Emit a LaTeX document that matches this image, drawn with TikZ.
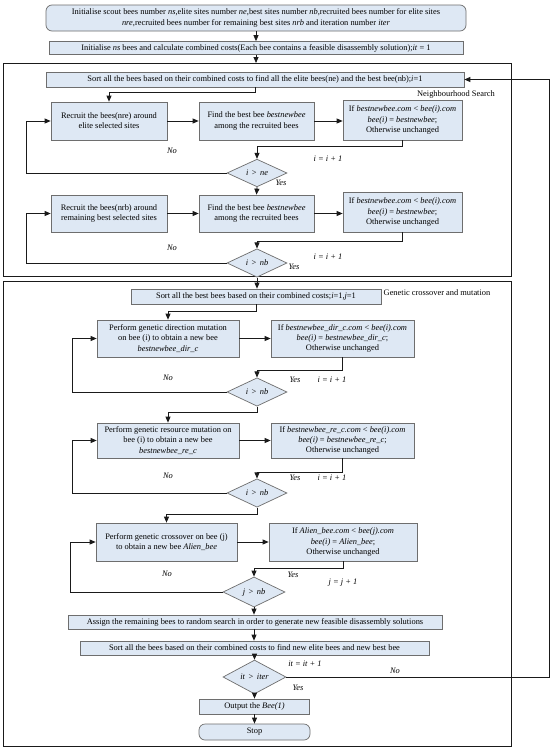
\documentclass[tikz,border=0pt]{standalone}
\usepackage{fontspec}
\setmainfont{Liberation Serif}
\usetikzlibrary{shapes.geometric,arrows.meta,calc}
\definecolor{boxfill}{HTML}{DEE8F4}
\definecolor{bordercol}{HTML}{6E6E6E}
\definecolor{linecol}{HTML}{1A1A1A}
\begin{document}
\begin{tikzpicture}[x=1pt,y=-1pt,
  font=\fontsize{8.4}{10.2}\selectfont,
  box/.style={draw=bordercol, fill=boxfill, inner sep=1pt, align=center, line width=0.7pt},
  rbox/.style={box, rounded corners=6pt},
  dec/.style={diamond, draw=bordercol, fill=boxfill, inner sep=0pt, line width=0.7pt, minimum width=60pt, minimum height=24pt},
  conn/.style={draw=linecol, line width=0.8pt},
  arr/.style={conn, -{Triangle[length=6pt,width=5pt]}},
  frm/.style={draw=linecol, line width=0.8pt},
  lab/.style={font=\fontsize{8.4}{10.2}\selectfont\itshape, inner sep=0pt}]
\useasboundingbox (0,0) rectangle (550,750);
\fill[white] (0,0) rectangle (550,750);
% frames
\draw[frm] (3,63) rectangle (511,276);
\draw[frm] (3,281) rectangle (511,746);
\coordinate (f1top) at (256,63);
% nodes
\node[rbox, minimum width=420pt, minimum height=26pt] (init) at (256,18) {Initialise scout bees number \textit{ns},elite sites number \textit{ne},best sites number \textit{nb},recruited bees number for elite sites\\\textit{nre},recruited bees number for remaining best sites \textit{nrb} and iteration number \textit{iter}};
\node[box, minimum width=414pt, minimum height=13pt] (init2) at (256,48) {Initialise \textit{ns} bees and calculate combined costs(Each bee contains a feasible disassembly solution);\textit{it} = 1};
\node[box, minimum width=418pt, minimum height=15pt] (sort1) at (255,79.5) {Sort all the bees based on their combined costs to find all the elite bees(ne) and the best bee(nb);\textit{i}=1};
\node[box, minimum width=116pt, minimum height=38pt] (rec1) at (109,121) {Recruit the bees(nre) around\\elite selected sites};
\node[box, minimum width=115pt, minimum height=38pt] (find1) at (256.5,121) {Find the best bee \textit{bestnewbee}\\among the recruited bees};
\node[box, minimum width=119pt, minimum height=40pt] (if1) at (402.5,120) {If \textit{bestnewbee.com} < \textit{bee(i).com}\\\textit{bee(i)} = \textit{bestnewbee};\\Otherwise unchanged};
\node[dec] (d1) at (257,173) {\textit{i} \,>\, \textit{ne}};
\node[box, minimum width=116pt, minimum height=37pt] (rec2) at (109,213.5) {Recruit the bees(nrb) around\\remaining best selected sites};
\node[box, minimum width=115pt, minimum height=37pt] (find2) at (256.5,213.5) {Find the best bee \textit{bestnewbee}\\among the recruited bees};
\node[box, minimum width=119pt, minimum height=40pt] (if2) at (402.5,212) {If \textit{bestnewbee.com} < \textit{bee(i).com}\\\textit{bee(i)} = \textit{bestnewbee};\\Otherwise unchanged};
\node[dec] (d2) at (257,263) {\textit{i} \,>\, \textit{nb}};
\node[box, minimum width=250pt, minimum height=15pt] (sort2) at (256,296.5) {Sort all the best bees based on their combined costs;\textit{i}=1,\textit{j}=1};
\node[box, minimum width=142pt, minimum height=37pt] (p1) at (168,338.5) {Perform genetic direction mutation\\on bee (i) to obtain a new bee\\\textit{bestnewbee\_dir\_c}};
\node[box, minimum width=143pt, minimum height=37pt] (if3) at (342.5,338.5) {If \textit{bestnewbee\_dir\_c.com} < \textit{bee(i).com}\\\textit{bee(i)} = \textit{bestnewbee\_dir\_c};\\Otherwise unchanged};
\node[dec] (d3) at (257,392) {\textit{i} \,>\, \textit{nb}};
\node[box, minimum width=142pt, minimum height=35pt] (p2) at (168,440.5) {Perform genetic resource mutation on\\bee (i) to obtain a new bee\\\textit{bestnewbee\_re\_c}};
\node[box, minimum width=143pt, minimum height=35pt] (if4) at (342.5,440.5) {If \textit{bestnewbee\_re\_c.com} < \textit{bee(i).com}\\\textit{bee(i)} = \textit{bestnewbee\_re\_c};\\Otherwise unchanged};
\node[dec] (d4) at (257,493) {\textit{i} \,>\, \textit{nb}};
\node[box, minimum width=141pt, minimum height=38pt] (p3) at (166.5,542) {Perform genetic crossover on bee (j)\\to obtain a new bee \textit{Alien\_bee}};
\node[box, minimum width=148pt, minimum height=38pt] (if5) at (343,542) {If \textit{Alien\_bee.com} < \textit{bee(j).com}\\\textit{bee(i)} = \textit{Alien\_bee};\\Otherwise unchanged};
\node[dec, minimum width=62pt, minimum height=22pt] (d5) at (254,592) {\textit{j} \,>\, \textit{nb}};
\node[box, minimum width=374pt, minimum height=14pt] (assign) at (255,622) {Assign the remaining bees to random search in order to generate new feasible disassembly solutions};
\node[box, minimum width=349pt, minimum height=14pt] (sort3) at (254.5,648) {Sort all the bees based on their combined costs to find new elite bees and new best bee};
\node[dec, minimum width=63pt, minimum height=22pt] (d6) at (254.5,677) {\textit{it} \,>\, \textit{iter}};
\node[box, minimum width=110pt, minimum height=15pt] (out) at (254.5,706.5) {Output the \textit{Bee(1)}};
\node[rbox, minimum width=111pt, minimum height=16pt] (stop) at (254.5,732) {Stop};
% text labels
\node[inner sep=0pt] (nsl) at (456,94) {Neighbourhood Search};
\node[inner sep=0pt] (gcl) at (437,293) {Genetic crossover and mutation};
\node[lab] (no1) at (172,151) {No};
\node[lab] (inc1) at (328,159) {i = i + 1};
\node[lab] (yes1) at (281,183) {Yes};
\node[lab] (no2) at (172,248) {No};
\node[lab] (inc2) at (328,257) {i = i + 1};
\node[lab] (yes2) at (294,267) {Yes};
\node[lab] (no3) at (168,378) {No};
\node[lab] (yes3) at (295,380) {Yes};
\node[lab] (inc3) at (332,380) {i = i + 1};
\node[lab] (no4) at (168,476) {No};
\node[lab] (yes4) at (295,478) {Yes};
\node[lab] (inc4) at (332,478) {i = i + 1};
\node[lab] (no5) at (167,574) {No};
\node[lab] (yes5) at (293,575) {Yes};
\node[lab] (inc5) at (343,583) {j = j + 1};
\node[lab] (inc6) at (305,664) {it = it + 1};
\node[lab] (no6) at (395,671) {No};
\node[lab] (yes6) at (298,688) {Yes};
% connectors
\draw[arr] (init.south) -- (init2.north);
\draw[arr] (init2.south) -- (f1top);
\draw[arr] (sort1.south) -- ++(0,5) -| (rec1.north);
\draw[arr] (rec1.east) -- (find1.west);
\draw[arr] (find1.east) -- (find1.east -| if1.west);
\draw[arr] (if1.south) -- ++(0,6) -| (d1.north);
\draw[arr] (d1.west) -- ++(-200,0) |- (rec1.west);
\draw[arr] (d1.south) -- (find2.north);
\draw[arr] (rec2.east) -- (find2.west);
\draw[arr] (find2.east) -- (find2.east -| if2.west);
\draw[arr] (if2.south) -- ++(0,9) -| (d2.north);
\draw[arr] (d2.west) -- ++(-200,0) |- (rec2.west);
\draw[arr] (d2.south) -- (d2.south |- sort2.north);
\draw[arr] (sort2.south) -- ++(0,7) -| (p1.north);
\draw[arr] (p1.east) -- (if3.west);
\draw[arr] (if3.south) -- ++(0,13) -| (d3.north);
\draw[arr] (d3.west) -- ++(-154,0) |- (p1.west);
\draw[arr] (d3.south) -- ++(0,6) -| (p2.north);
\draw[arr] (p2.east) -- (if4.west);
\draw[arr] (if4.south) -- ++(0,14) -| (d4.north);
\draw[arr] (d4.west) -- ++(-154,0) |- (p2.west);
\draw[arr] (d4.south) -- ++(0,7) -| (p3.north);
\draw[arr] (p3.east) -- (if5.west);
\draw[arr] (if5.south) -- ++(0,7) -| (d5.north);
\draw[arr] (d5.west) -- ++(-152,0) |- (p3.west);
\draw[arr] (d5.south) -- (d5.south |- assign.north);
\draw[arr] (assign.south -| d5.south) -- (d5.south |- sort3.north);
\draw[arr] (sort3.south) -- (d6.north);
\draw[arr] (d6.south) -- (out.north);
\draw[arr] (out.south) -- (stop.north);
\draw[arr] (d6.east) -- ++(263.5,0) |- (sort1.east);
\end{tikzpicture}
\end{document}
